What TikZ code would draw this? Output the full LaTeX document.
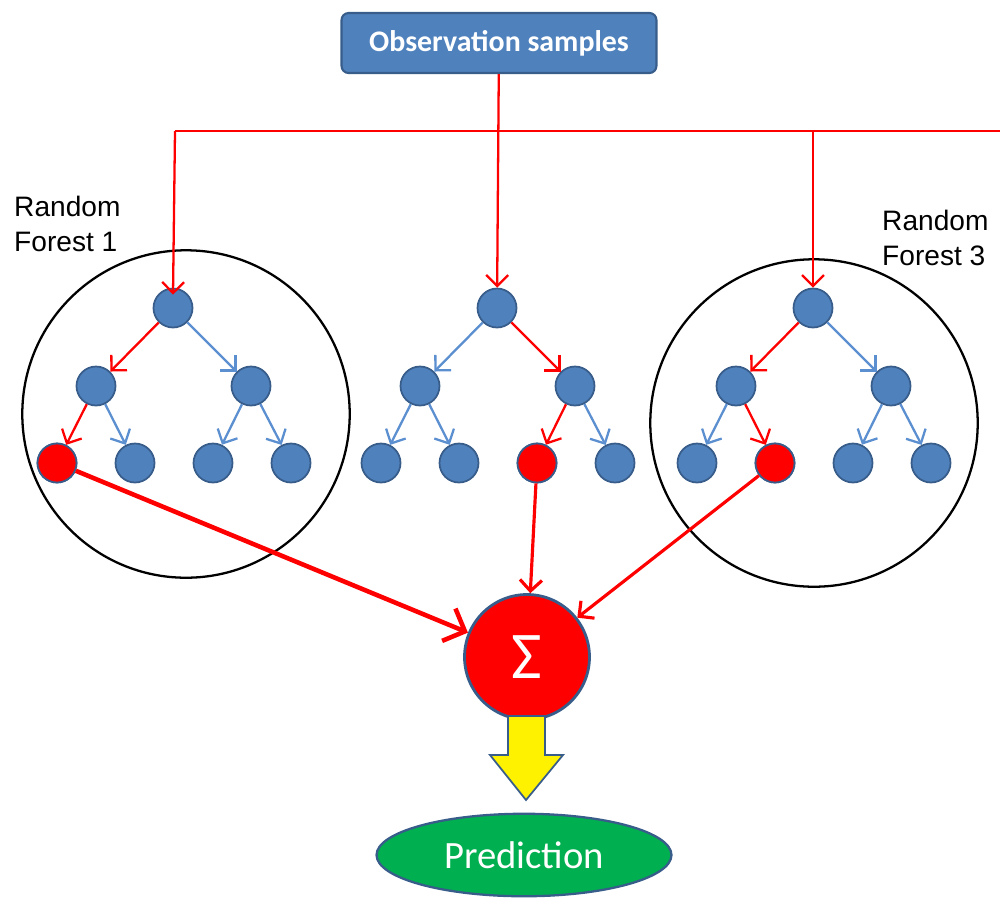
\documentclass[tikz,border=0pt]{standalone}
\usepackage{fontspec}
\setmainfont{Liberation Sans}
\newfontfamily\carlito{Carlito}
\usetikzlibrary{positioning,arrows.meta,shapes.geometric}
\definecolor{nodeblue}{HTML}{4F81BD}
\definecolor{edgeblue}{HTML}{5B8FD0}
\definecolor{rimblue}{HTML}{385D8A}
\definecolor{ovalgreen}{HTML}{00B050}
\begin{document}
\begin{tikzpicture}[x=0.02cm,y=-0.02cm,
    leaf/.style={circle,fill=nodeblue,draw=rimblue,line width=1pt,inner sep=0pt,minimum size=0.78cm},
    hit/.style={leaf,fill=red},
    tedge/.style={edgeblue,line width=1.3pt,-{Straight Barb[length=2.2mm]}},
    redge/.style={red,line width=1.3pt,-{Straight Barb[length=2.2mm]}},
    forest/.style={circle,draw=black,line width=1.3pt,minimum size=6.55cm,inner sep=0pt}]
    \useasboundingbox (0,0) rectangle (1000,907);

    \node[rounded corners=4pt,fill=nodeblue,draw=rimblue,line width=1.2pt,minimum width=6.3cm,minimum height=1.2cm,
        text=white,font=\carlito\bfseries\fontsize{17}{20}\selectfont] (obs) at (499,43) {Observation samples};

    \node[forest] (f1) at (186,414) {};
    \node[forest] (f3) at (814,423) {};
    \node[align=left,anchor=north west,font=\fontsize{16}{20}\selectfont] (lab1) at (8,190) {Random\\Forest 1};
    \node[align=left,anchor=north west,font=\fontsize{16}{20}\selectfont] (lab3) at (876,204) {Random\\Forest 3};

    % three trees
    \foreach \t/\x in {a/173,b/497,c/813} {
        \node[leaf] (\t0) at (\x,308) {};
        \node[leaf] (\t1) at (\x-77,386) {};
        \node[leaf] (\t2) at (\x+78,386) {};
        \node[leaf] (\t3) at (\x-116,463) {};
        \node[leaf] (\t4) at (\x-38,463) {};
        \node[leaf] (\t5) at (\x+40,463) {};
        \node[leaf] (\t6) at (\x+118,463) {};
    }
    \node[hit] at (a3) {};
    \node[hit] at (b5) {};
    \node[hit] at (c4) {};

    \draw[redge] (a0) -- (a1); \draw[tedge] (a0) -- (a2);
    \draw[redge] (a1) -- (a3); \draw[tedge] (a1) -- (a4);
    \draw[tedge] (a2) -- (a5); \draw[tedge] (a2) -- (a6);
    \draw[tedge] (b0) -- (b1); \draw[redge] (b0) -- (b2);
    \draw[tedge] (b1) -- (b3); \draw[tedge] (b1) -- (b4);
    \draw[redge] (b2) -- (b5); \draw[tedge] (b2) -- (b6);
    \draw[redge] (c0) -- (c1); \draw[tedge] (c0) -- (c2);
    \draw[tedge] (c1) -- (c3); \draw[redge] (c1) -- (c4);
    \draw[tedge] (c2) -- (c5); \draw[tedge] (c2) -- (c6);

    % sample feed
    \coordinate (bar1) at (175,131);
    \coordinate (bar3) at (813,131);
    \coordinate (barend) at (1000,131);
    \draw[red,line width=1.3pt] (bar1) -- (barend);
    \draw[redge] (obs) -- (b0);
    \draw[redge] (bar1) -- ([yshift=-4pt]a0.north);
    \draw[redge] (bar3) -- (c0);

    \node[circle,fill=red,draw=rimblue,line width=1.6pt,minimum size=2.5cm,text=white,
        font=\carlito\fontsize{38}{40}\selectfont] (sum) at (527,657) {Σ};
    \draw[red,line width=2.6pt,-{Straight Barb[length=3.5mm]}] (a3) -- (sum);
    \draw[redge,line width=1.8pt] (b5) -- (sum);
    \draw[redge,line width=1.8pt] (c4) -- (sum);

    \node[ellipse,fill=ovalgreen,draw=rimblue,line width=1.3pt,minimum width=5.9cm,minimum height=1.65cm,
        text=white,font=\carlito\fontsize{22}{26}\selectfont] (pred) at (524,855) {Prediction};
    % block arrow
    \draw[fill=yellow,draw=rimblue,line width=1pt] (508,716) -- (545,716) -- (545,755) -- (563,755)
        -- (526,800) -- (490,755) -- (508,755) -- cycle;
\end{tikzpicture}
\end{document}
